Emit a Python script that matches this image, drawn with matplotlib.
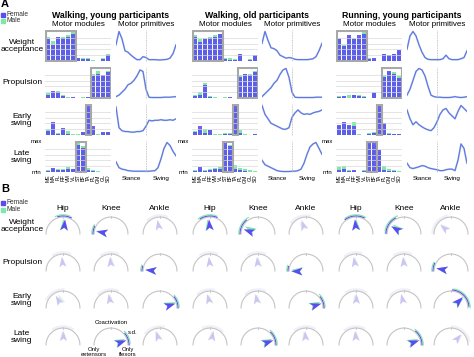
import numpy as np
import matplotlib
matplotlib.use("Agg")
import matplotlib.pyplot as plt
from matplotlib.path import Path
from matplotlib.markers import MarkerStyle
from matplotlib.patches import Rectangle

plt.rcParams['font.family'] = ['Liberation Sans', 'DejaVu Sans']

# ---- data ----
muscles = ["ME", "MA", "FL", "RF", "VM", "VL", "ST", "BF", "TA", "PL", "GM", "GL", "SO"]
groups = ["Walking, young participants", "Walking, old participants", "Running, young participants"]
synergies = ["Weight\nacceptance", "Propulsion", "Early\nswing", "Late\nswing"]
joints = ["Hip", "Knee", "Ankle"]
# dominant muscles of each synergy (first index, count)
dominant = [(0, 6), (9, 4), (8, 1), (6, 2)]

# motor modules, one list per synergy
walk_young_female = [
    [0.75, 0.55, 0.85, 0.80, 0.85, 0.95, 0.08, 0.06, 0.04, 0.00, 0.00, 0.05, 0.20],
    [0.10, 0.22, 0.20, 0.05, 0.00, 0.02, 0.00, 0.00, 0.02, 0.75, 0.85, 0.80, 0.90],
    [0.12, 0.45, 0.02, 0.25, 0.02, 0.00, 0.00, 0.08, 1.00, 0.30, 0.00, 0.08, 0.08],
    [0.03, 0.12, 0.05, 0.05, 0.08, 0.10, 0.95, 0.85, 0.05, 0.02, 0.00, 0.00, 0.00],
]
walk_young_male = [
    [0.85, 0.68, 0.85, 0.85, 0.90, 1.00, 0.05, 0.08, 0.08, 0.02, 0.00, 0.08, 0.25],
    [0.15, 0.15, 0.25, 0.08, 0.02, 0.00, 0.00, 0.02, 0.00, 0.85, 0.95, 0.80, 0.95],
    [0.18, 0.35, 0.05, 0.15, 0.12, 0.03, 0.02, 0.05, 0.95, 0.20, 0.02, 0.05, 0.08],
    [0.06, 0.08, 0.08, 0.10, 0.15, 0.08, 1.00, 0.90, 0.12, 0.06, 0.02, 0.00, 0.00],
]
walk_old_female = [
    [0.85, 0.65, 0.75, 0.80, 0.85, 0.95, 0.05, 0.03, 0.02, 0.25, 0.00, 0.02, 0.18],
    [0.05, 0.10, 0.45, 0.02, 0.00, 0.00, 0.00, 0.02, 0.00, 0.72, 0.85, 0.80, 0.92],
    [0.10, 0.30, 0.05, 0.15, 0.00, 0.00, 0.02, 0.03, 1.00, 0.05, 0.00, 0.00, 0.03],
    [0.02, 0.15, 0.02, 0.05, 0.08, 0.10, 1.00, 0.92, 0.08, 0.05, 0.02, 0.00, 0.00],
]
walk_old_male = [
    [0.90, 0.75, 0.80, 0.85, 0.90, 0.95, 0.10, 0.08, 0.05, 0.20, 0.00, 0.04, 0.20],
    [0.08, 0.18, 0.50, 0.05, 0.02, 0.00, 0.02, 0.00, 0.00, 0.80, 0.85, 0.85, 0.95],
    [0.12, 0.20, 0.20, 0.15, 0.02, 0.02, 0.05, 0.05, 0.95, 0.15, 0.02, 0.00, 0.02],
    [0.05, 0.10, 0.05, 0.08, 0.12, 0.15, 0.95, 0.95, 0.25, 0.12, 0.08, 0.05, 0.03],
]
run_young_female = [
    [0.75, 0.50, 0.90, 0.75, 0.90, 0.95, 0.05, 0.10, 0.00, 0.22, 0.18, 0.22, 0.38],
    [0.03, 0.05, 0.00, 0.08, 0.05, 0.02, 0.00, 0.15, 0.00, 0.72, 0.95, 0.85, 0.70],
    [0.35, 0.45, 0.35, 0.30, 0.00, 0.00, 0.02, 0.05, 1.00, 0.40, 0.03, 0.03, 0.03],
    [0.05, 0.08, 0.02, 0.05, 0.00, 0.02, 1.00, 1.00, 0.75, 0.05, 0.02, 0.02, 0.00],
]
run_young_male = [
    [0.80, 0.55, 0.85, 0.80, 0.85, 1.00, 0.10, 0.05, 0.00, 0.25, 0.20, 0.25, 0.35],
    [0.05, 0.03, 0.08, 0.10, 0.10, 0.05, 0.00, 0.18, 0.00, 0.80, 0.90, 0.90, 0.75],
    [0.30, 0.40, 0.30, 0.45, 0.02, 0.00, 0.05, 0.08, 0.95, 0.35, 0.05, 0.02, 0.03],
    [0.15, 0.20, 0.05, 0.02, 0.00, 0.05, 0.98, 0.95, 0.70, 0.20, 0.08, 0.05, 0.02],
]

# motor primitives, normalised time 0-200 (stance 0-100, swing 100-200), one point every 10
time_pts = [0, 10, 20, 30, 40, 50, 60, 70, 80, 90, 100, 110, 120, 130, 140, 150, 160, 170, 180, 190, 200]
walk_young_prim = [
    [0.55, 1.00, 0.75, 0.35, 0.30, 0.20, 0.12, 0.05, 0.05, 0.15, 0.12, 0.05, 0.05, 0.05, 0.04, 0.04, 0.05, 0.06, 0.10, 0.25, 0.55],
    [0.05, 0.10, 0.20, 0.30, 0.45, 0.50, 0.60, 0.75, 0.95, 0.90, 0.30, 0.03, 0.02, 0.02, 0.02, 0.02, 0.03, 0.03, 0.03, 0.04, 0.05],
    [0.95, 0.25, 0.15, 0.12, 0.12, 0.10, 0.10, 0.12, 0.12, 0.15, 0.30, 0.50, 0.48, 0.50, 0.50, 0.52, 0.50, 0.50, 0.52, 0.50, 0.55],
    [0.35, 0.15, 0.10, 0.08, 0.05, 0.04, 0.03, 0.03, 0.03, 0.03, 0.03, 0.03, 0.04, 0.05, 0.15, 0.45, 0.80, 1.00, 0.90, 0.70, 0.55],
]
walk_old_prim = [
    [0.60, 1.00, 0.70, 0.45, 0.42, 0.35, 0.20, 0.15, 0.10, 0.12, 0.10, 0.06, 0.05, 0.05, 0.05, 0.05, 0.06, 0.08, 0.15, 0.35, 0.60],
    [0.05, 0.15, 0.25, 0.35, 0.50, 0.60, 0.80, 0.95, 1.00, 0.70, 0.20, 0.03, 0.02, 0.02, 0.02, 0.02, 0.02, 0.02, 0.03, 0.03, 0.03],
    [1.00, 0.70, 0.55, 0.40, 0.35, 0.30, 0.25, 0.20, 0.20, 0.25, 0.60, 0.75, 0.85, 0.75, 0.70, 0.72, 0.70, 0.75, 0.78, 0.80, 0.85],
    [0.40, 0.25, 0.20, 0.15, 0.10, 0.05, 0.03, 0.02, 0.02, 0.02, 0.03, 0.03, 0.05, 0.10, 0.30, 0.60, 0.85, 0.95, 1.00, 0.80, 0.60],
]
run_young_prim = [
    [0.40, 0.85, 1.00, 0.85, 0.55, 0.30, 0.12, 0.06, 0.05, 0.05, 0.05, 0.05, 0.08, 0.20, 0.08, 0.05, 0.05, 0.05, 0.08, 0.12, 0.35],
    [0.10, 0.30, 0.60, 0.90, 1.00, 0.95, 0.75, 0.40, 0.10, 0.05, 0.03, 0.03, 0.02, 0.02, 0.02, 0.03, 0.05, 0.03, 0.02, 0.03, 0.05],
    [0.85, 0.55, 0.35, 0.45, 0.35, 0.28, 0.22, 0.18, 0.15, 0.25, 0.45, 0.70, 0.85, 0.90, 0.75, 0.65, 0.55, 0.80, 1.00, 0.90, 0.80],
    [0.30, 0.15, 0.12, 0.15, 0.18, 0.22, 0.20, 0.15, 0.12, 0.10, 0.08, 0.05, 0.05, 0.08, 0.10, 0.10, 0.05, 0.40, 0.95, 0.80, 0.30],
]

# panel B: mean coactivation angle (deg, 0 = only flexors, 180 = only extensors)
# columns: hip, knee, ankle for each of the three groups
angle_wa_female = [85, 170, 100, 95, 160, 110, 95, 148, 140]
angle_pr_female = [95, 95, 175, 95, 95, 178, 100, 95, 170]
angle_es_female = [120, 100, 18, 105, 100, 18, 90, 105, 45]
angle_ls_female = [90, 20, 110, 80, 20, 95, 95, 20, 50]
angle_wa_male = [92, 166, 105, 100, 150, 115, 92, 140, 135]
angle_pr_male = [98, 92, 172, 98, 92, 175, 95, 92, 168]
angle_es_male = [112, 95, 22, 95, 95, 25, 95, 100, 40]
angle_ls_male = [95, 25, 105, 85, 25, 100, 90, 25, 45]
sd_wa = [22, 15, 35, 28, 30, 35, 32, 30, 40]
sd_pr = [30, 30, 10, 30, 30, 12, 30, 30, 15]
sd_es = [35, 35, 20, 30, 35, 20, 35, 35, 40]
sd_ls = [35, 20, 35, 35, 25, 35, 35, 30, 40]
significant_wa = [1, 1, 0, 1, 1, 0, 1, 1, 0]
significant_pr = [0, 0, 1, 0, 0, 1, 0, 0, 1]
significant_es = [0, 0, 1, 0, 0, 1, 0, 0, 1]
significant_ls = [0, 1, 0, 0, 1, 0, 0, 1, 0]

# ---- figure ----
FEMALE = "#5a4cf2"
MALE = "#7fe8a9"
LINE = "#6c6ef0"
W, H = 474, 357
fig = plt.figure(figsize=(W / 100, H / 100), dpi=100)


def px_axes(x0, y0, x1, y1):
    return fig.add_axes([x0 / W, 1 - y1 / H, (x1 - x0) / W, (y1 - y0) / H])


def px_text(x, y, s, **kw):
    fig.text(x / W, 1 - y / H, s, **kw)


def legend(y):
    for dy, lab, col in [(0, "Female", FEMALE), (6.5, "Male", MALE)]:
        fig.patches.append(Rectangle((1 / W, 1 - (y + dy + 2) / H), 4 / W, 4 / H,
                                     transform=fig.transFigure, color=col))
        px_text(6.5, y + dy, lab, fontsize=4.8, va="center", color="#333333")


# ---------------- panel A ----------------
px_text(1, 4, "A", fontsize=8, fontweight="bold", va="center")
legend(14.5)

mod_x = [45, 192, 336]
prim_x = [116, 262, 407]
row_y = [30, 67, 104, 141]
females = [walk_young_female, walk_old_female, run_young_female]
males = [walk_young_male, walk_old_male, run_young_male]
prims = [walk_young_prim, walk_old_prim, run_young_prim]

for g in range(3):
    px_text((mod_x[g] + prim_x[g] + 60) / 2, 15, groups[g], fontsize=6.3, fontweight="bold",
            ha="center", va="center")
    px_text(mod_x[g] + 33, 24.5, "Motor modules", fontsize=5.8, ha="center", va="center")
    px_text(prim_x[g] + 30, 24.5, "Motor primitives", fontsize=5.8, ha="center", va="center")
    for r in range(4):
        ax = px_axes(mod_x[g], row_y[r], mod_x[g] + 66, row_y[r] + 32)
        x = np.arange(len(muscles))
        ax.bar(x, males[g][r], width=0.8, color=MALE, zorder=1)
        ax.bar(x, females[g][r], width=0.8, color=FEMALE, alpha=0.88, zorder=1.1)
        s, n = dominant[r]
        ax.add_patch(Rectangle((s - 0.5, -0.03), n, 1.09, fill=False, ec="#a8a8a8", lw=1.5, zorder=3))
        ax.set_xlim(-0.6, 12.6)
        ax.set_ylim(-0.05, 1.08)
        ax.set_yticks([0.2, 0.4, 0.6, 0.8])
        ax.set_axisbelow(False)
        ax.yaxis.grid(True, color="#d9d9d9", lw=0.5)
        for sp in ax.spines.values():
            sp.set_visible(False)
        ax.tick_params(length=0, labelleft=False, pad=1)
        if r == 3:
            ax.set_xticks(x)
            ax.set_xticklabels(muscles, rotation=90, fontsize=3.8)
            ax.text(-0.05, 1.0, "max", transform=ax.transAxes, fontsize=4.3, ha="right", va="center")
            ax.text(-0.05, 0.02, "min", transform=ax.transAxes, fontsize=4.3, ha="right", va="center")
        else:
            ax.set_xticks([])

        ax2 = px_axes(prim_x[g], row_y[r], prim_x[g] + 60, row_y[r] + 32)
        ax2.plot(time_pts, prims[g][r], color=MALE, lw=1.4, alpha=0.5)
        ax2.plot(time_pts, prims[g][r], color=LINE, lw=0.9)
        ax2.axvline(100, color="#b5b5b5", lw=0.6, ls=(0, (1, 1)))
        ax2.set_xlim(0, 200)
        ax2.set_ylim(-0.03, 1.05)
        for sp in ax2.spines.values():
            sp.set_visible(False)
        ax2.set_yticks([])
        ax2.tick_params(length=0, pad=2)
        if r == 3:
            ax2.set_xticks([50, 150])
            ax2.set_xticklabels(["Stance", "Swing"], fontsize=4.5)
        else:
            ax2.set_xticks([])

for r in range(4):
    px_text(22, row_y[r] + 16, synergies[r], fontsize=6, ha="center", va="center", linespacing=1.1)

# ---------------- panel B ----------------
px_text(1, 189, "B", fontsize=8, fontweight="bold", va="center")
legend(203)

centers = [63, 111, 160, 210, 258, 306, 356, 404, 451]
bases = [234, 271, 308, 345]
female_angles = [angle_wa_female, angle_pr_female, angle_es_female, angle_ls_female]
male_angles = [angle_wa_male, angle_pr_male, angle_es_male, angle_ls_male]
sds = [sd_wa, sd_pr, sd_es, sd_ls]
signif = [significant_wa, significant_pr, significant_es, significant_ls]

arrow = Path([(0, 1), (0.62, -0.8), (0, -0.35), (-0.62, -0.8), (0, 1)],
             [Path.MOVETO, Path.LINETO, Path.LINETO, Path.LINETO, Path.CLOSEPOLY])
half = np.linspace(0, np.pi, 100)

for j, cx in enumerate(centers):
    px_text(cx, 208, joints[j % 3], fontsize=6, ha="center", va="center")
for r in range(4):
    px_text(22, bases[r] - 8, synergies[r], fontsize=6, ha="center", va="center", linespacing=1.1)
    for j, cx in enumerate(centers):
        ax = px_axes(cx - 22, bases[r] - 22, cx + 22, bases[r] + 4)
        ax.set_xlim(-1.3, 1.3)
        ax.set_ylim(-0.24, 1.3)
        ax.axis("off")
        ax.plot(np.cos(half), np.sin(half), color="#c4c4c4", lw=0.8)
        ax.plot([0, 0], [0.93, 1.05], color="#c4c4c4", lw=0.6)
        a_f = female_angles[r][j]
        a_m = male_angles[r][j]
        sd = sds[r][j]
        strong = signif[r][j] == 1
        band = np.radians(np.linspace(max(a_f - sd, 0), min(a_f + sd, 180), 50))
        ax.fill(np.concatenate([1.02 * np.cos(band), 1.17 * np.cos(band[::-1])]),
                np.concatenate([1.02 * np.sin(band), 1.17 * np.sin(band[::-1])]),
                color="#d8d3ee", alpha=0.6 if strong else 0.35, lw=0)
        if strong:
            band_m = np.radians(np.linspace(max(a_m - sd, 0), min(a_m + sd, 180), 50))
            ax.plot(1.07 * np.cos(band), 1.07 * np.sin(band), color=FEMALE, lw=0.8)
            ax.plot(1.13 * np.cos(band_m), 1.13 * np.sin(band_m), color=MALE, lw=0.8)
            c_f, c_m, ms = FEMALE, MALE, 9
        else:
            c_f, c_m, ms = "#cdc3f4", "#d9f3e5", 8
        for ang, col in [(a_m, c_m), (a_f, c_f)]:
            t = np.radians(ang)
            ax.plot(0.55 * np.cos(t), 0.55 * np.sin(t), ls="none",
                    marker=MarkerStyle(arrow).rotated(deg=ang - 90), ms=ms, color=col, mew=0)

# explanation on the late swing knee plot
px_text(111, 322, "Coactivation", fontsize=4.3, ha="center", va="center")
px_text(133, 332, "s.d.", fontsize=4.3, ha="center", va="center")
px_text(94, 352, "Only\nextensors", fontsize=4.3, ha="center", va="center", linespacing=1.0)
px_text(128, 352, "Only\nflexors", fontsize=4.3, ha="center", va="center", linespacing=1.0)

fig.savefig("out.png", dpi=100)
